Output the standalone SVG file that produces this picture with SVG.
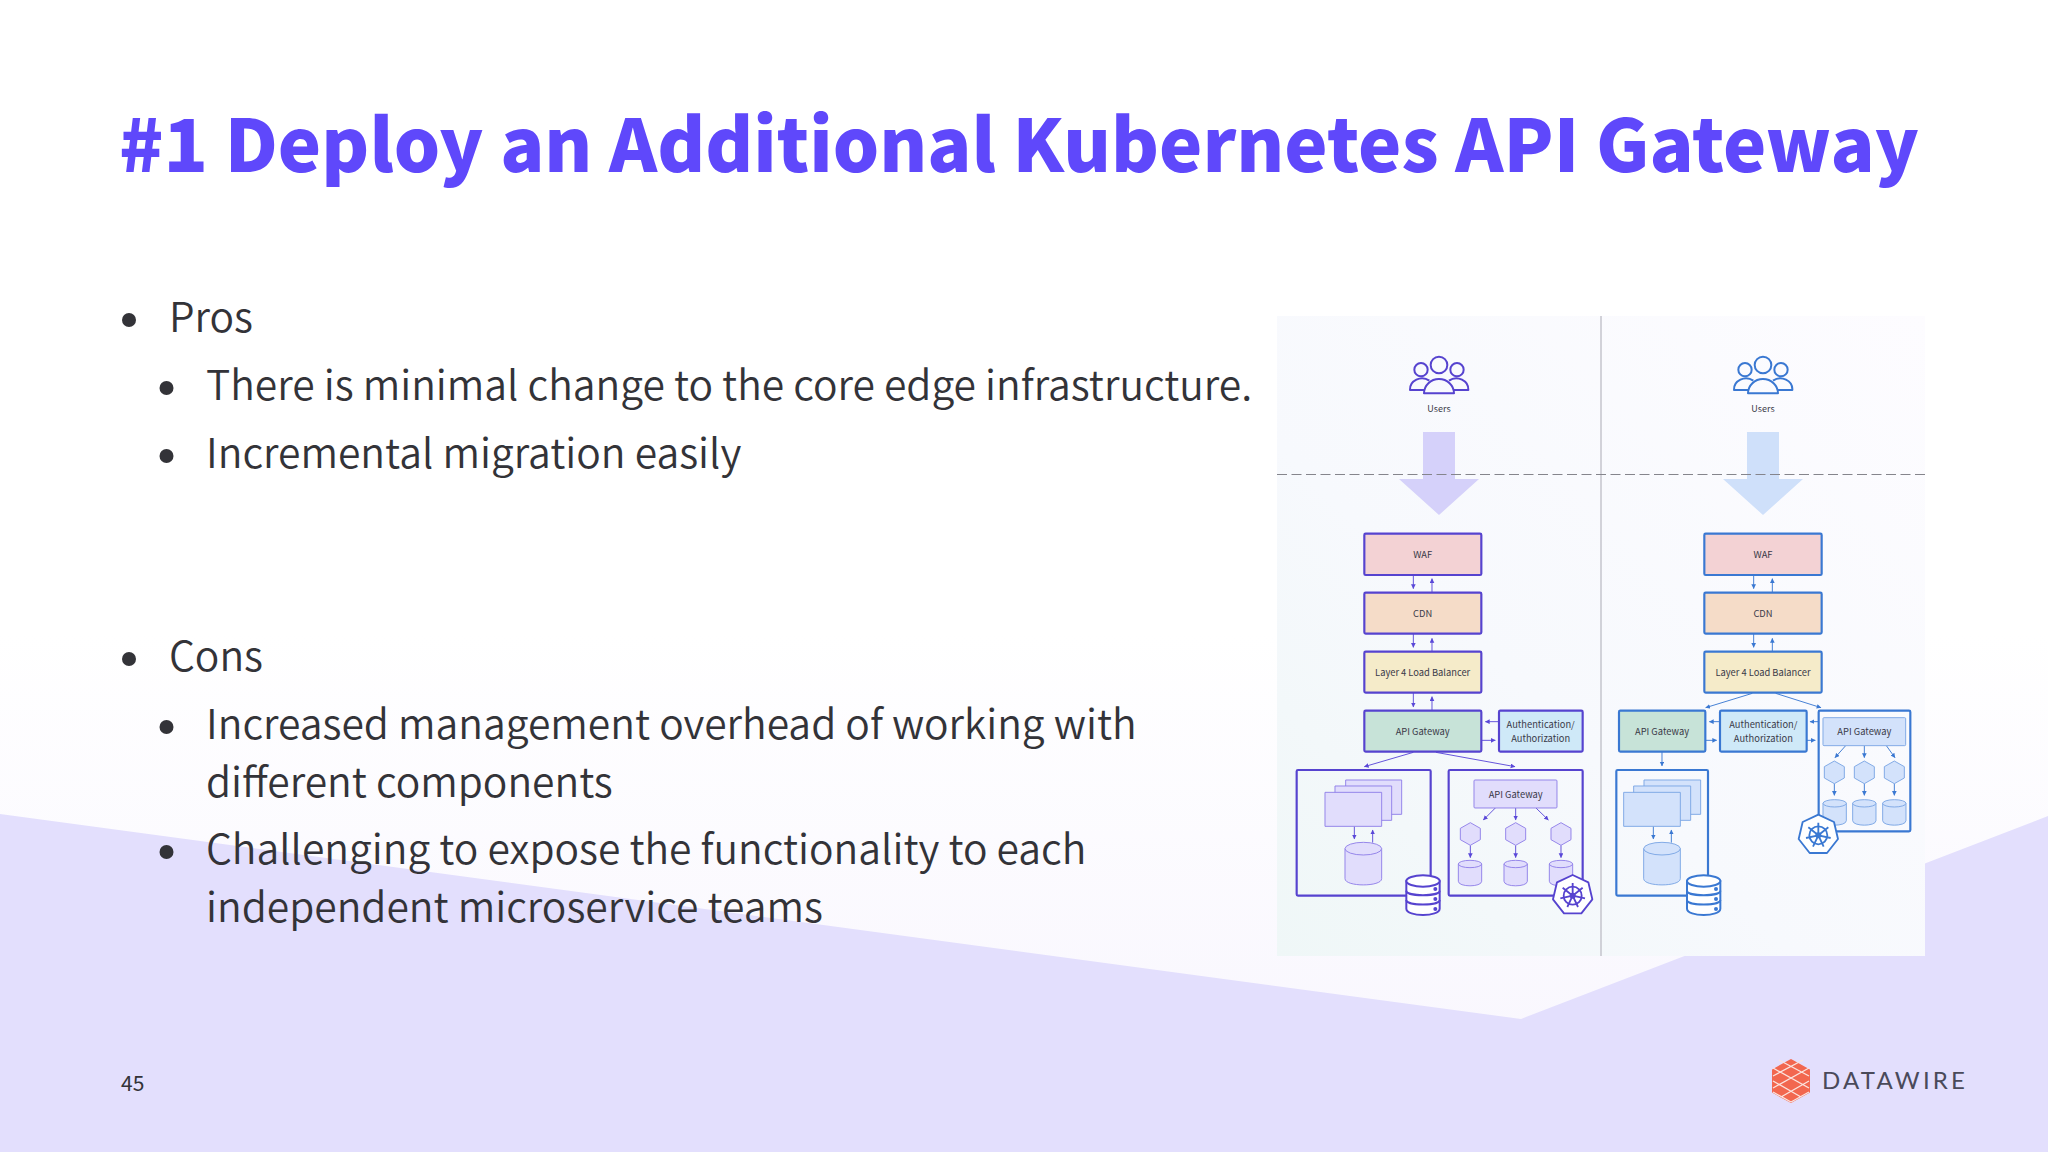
<svg xmlns="http://www.w3.org/2000/svg" xmlns:xlink="http://www.w3.org/1999/xlink" width="2048" height="1152" viewBox="0 0 2048 1152">
<style>
text{font-family:"Noto Sans CJK SC","Noto Sans",sans-serif}
.title{font-size:73px;font-weight:900;fill:#5f48fb}
.body{font-size:40.800px;font-weight:350;fill:#333338}
.bul{fill:#333338}
.t{font-size:28px;fill:#3a3a48;text-anchor:middle;font-weight:400}
.u{font-size:27px;fill:#3a3a48;text-anchor:middle}
.pu{color:#5643cf;--f:#e1ddfc;--s:#8f7fe8}
.bl{color:#3a78d2;--f:#d3e2fb;--s:#7ba6e4}
.n{stroke:currentColor;stroke-width:6.5;stroke-linejoin:round}
.in{stroke-width:2.8;stroke-linejoin:round;fill:var(--f);stroke:var(--s)}
.c{fill:none;stroke-width:2.8}
.c.pl{stroke:#5a48d8}
.c.bb{stroke:#3a78d2}
.waf{fill:#f3d2d4}.cdn{fill:#f5dcc8}.l4{fill:#f5ebc9}.gw{fill:#c7e3d8}.au{fill:#cfe9f8}
.box{fill:none}
</style>
<defs>
<linearGradient id="pg" x1="1" y1="0" x2="0" y2="1"><stop offset="0" stop-color="#fdfcff"/><stop offset="0.6" stop-color="#f7f9fd"/><stop offset="1" stop-color="#eff7f7"/></linearGradient>
<linearGradient id="wg" x1="0" y1="0" x2="0" y2="1"><stop offset="0.55" stop-color="#ffffff"/><stop offset="0.9" stop-color="#f9f7fe"/></linearGradient>
<marker id="ap" markerUnits="userSpaceOnUse" markerWidth="16" markerHeight="16" refX="13" refY="7" orient="auto"><path d="M0 0L14 7L0 14Z" fill="#5a48d8"/></marker>
<marker id="ab" markerUnits="userSpaceOnUse" markerWidth="16" markerHeight="16" refX="13" refY="7" orient="auto"><path d="M0 0L14 7L0 14Z" fill="#3a78d2"/></marker>
<symbol id="users" overflow="visible"><g fill="none" stroke="currentColor" stroke-width="6" stroke-linejoin="round">
<circle cx="0" cy="0" r="25"/><circle cx="-54" cy="14" r="20"/><circle cx="54" cy="14" r="20"/>
<path d="M-44 75H-87A36 33 0 0 1 -29 47"/><path d="M44 75H88A36 33 0 0 0 30 47"/><path d="M-45 85A45 43 0 0 1 45 85Z"/></g></symbol>
<symbol id="db" overflow="visible"><g fill="#fff" stroke="currentColor" stroke-width="6">
<path d="M-50 -41V41C-50 66 50 66 50 41V-41Z"/><ellipse cx="0" cy="-42" rx="50" ry="17"/>
<path d="M-50 -13C-50 5 50 5 50 -13M-50 15C-50 33 50 33 50 15" fill="none"/></g>
<g fill="currentColor"><circle cx="37" cy="-18" r="6"/><circle cx="37" cy="12" r="6"/><circle cx="37" cy="42" r="6"/></g></symbol>
<symbol id="k8s" overflow="visible"><path d="M0 -60L47 -38L59 13L26 55H-26L-59 13L-47 -38Z" fill="#fff" stroke="currentColor" stroke-width="5.5" stroke-linejoin="round"/>
<g fill="none" stroke="currentColor" stroke-width="5.5"><circle cx="0" cy="2" r="27"/><path d="M0 2V-36M0 2L30 -22M0 2L37 10M0 2L16 36M0 2L-16 36M0 2L-37 10M0 2L-30 -22"/></g><circle cx="0" cy="2" r="9" fill="currentColor"/></symbol>
<symbol id="cylL" overflow="visible"><path class="in" d="M-55 0V90C-55 115 55 115 55 90V0Z"/><ellipse class="in" cx="0" cy="0" rx="55" ry="19"/></symbol>
<symbol id="cylS" overflow="visible"><path class="in" d="M-35 0V52C-35 70 35 70 35 52V0Z"/><ellipse class="in" cx="0" cy="0" rx="35" ry="11"/></symbol>
<symbol id="hex" overflow="visible"><path class="in" d="M0 -34L30 -17V17L0 34L-30 17V-17Z"/></symbol>
</defs>

<rect width="2048" height="1152" fill="url(#wg)"/>
<path id="bg-shape" d="M0 814L1521 1019L2048 816V1152H0Z" fill="#e3dffd"/>

<text class="title" x="119" y="172">#1 Deploy an Additional Kubernetes API Gateway</text>
<g id="bullets">
<circle class="bul" cx="129" cy="320" r="7"/><text class="body" x="169" y="332">Pros</text>
<circle class="bul" cx="166.500" cy="388" r="7"/><text class="body" x="206" y="400">There is minimal change to the core edge infrastructure.</text>
<circle class="bul" cx="166.500" cy="456" r="7"/><text class="body" x="206" y="467.500">Incremental migration easily</text>
<circle class="bul" cx="129" cy="659" r="7"/><text class="body" x="169" y="671">Cons</text>
<circle class="bul" cx="166.500" cy="727" r="7"/><text class="body" x="206" y="739">Increased management overhead of working with</text><text class="body" x="206" y="796.500">different components</text>
<circle class="bul" cx="166.500" cy="852" r="7"/><text class="body" x="206" y="864">Challenging to expose the functionality to each</text><text class="body" x="206" y="921.500">independent microservice teams</text>
</g>
<text id="page" x="121" y="1091" font-size="21" fill="#333338" font-weight="400">45</text>

<g id="logo">
<path d="M1791 1060L1809 1070V1092L1791 1102L1773 1092V1070Z" fill="#f2674f" stroke="#f2674f" stroke-width="2" stroke-linejoin="round"/>
<path d="M1773 1076L1803 1060M1773 1088L1809 1068M1781 1097L1809 1081M1791 1102L1809 1092M1809 1076L1779 1060M1809 1088L1773 1068M1801 1097L1773 1081M1791 1102L1773 1092" stroke="#fbe3de" stroke-width="1.300" fill="none"/>
<text x="1822" y="1089" font-size="24" letter-spacing="3.200" fill="#4a4a5a" style="font-family:Lato,sans-serif">DATAWIRE</text>
</g>

<g id="panel">
<rect x="1277" y="316" width="648" height="640" fill="url(#pg)"/>
<line x1="1601" y1="316" x2="1601" y2="956" stroke="#c4c4cc" stroke-width="1.500"/>
<path id="bigarrow-left" d="M1423 432H1455V479H1479L1439 515L1399 479H1423Z" fill="#d5d1fa"/>
<path id="bigarrow-right" d="M1747 432H1779V479H1803L1763 515L1723 479H1747Z" fill="#cfe0fa"/>
<line id="edge-line" x1="1277" y1="474.500" x2="1925" y2="474.500" stroke="#85858c" stroke-width="1" stroke-dasharray="10 4.500"/>
</g>

<g id="connectors">
<g transform="translate(1270 310) scale(.33333)" class="pu">
<g class="c pl" marker-end="url(#ap)">
<path d="M430 795V836"/><path d="M486 846V806"/><path d="M430 971V1012"/><path d="M486 1025V985"/>
<path d="M430 1148V1191"/><path d="M486 1200V1160"/>
<path d="M687 1235H646"/><path d="M634 1291H676"/>
<path d="M430 1327L283 1370"/><path d="M498 1327L735 1370"/>
<path d="M253 1549V1587"/><path d="M308 1598V1560"/>
<path d="M676 1494L640 1530"/><path d="M737 1494V1530"/><path d="M798 1494L835 1530"/>
<path d="M601 1606V1643"/><path d="M737 1606V1643"/><path d="M873 1606V1643"/>
</g></g>
<g transform="translate(1600 310) scale(.33333)" class="bl">
<g class="c bb" marker-end="url(#ab)">
<path d="M461 795V836"/><path d="M517 846V806"/><path d="M461 971V1012"/><path d="M517 1025V985"/>
<path d="M457 1150L317 1193"/><path d="M527 1150L663 1193"/>
<path d="M360 1235H328"/><path d="M316 1291H350"/><path d="M656 1235H630"/><path d="M620 1291H646"/>
<path d="M186 1325V1368"/>
<path d="M160 1549V1587"/><path d="M214 1598V1560"/>
<path d="M737 1307L705 1343"/><path d="M793 1307V1343"/><path d="M859 1307L885 1343"/>
<path d="M703 1420V1456"/><path d="M793 1420V1456"/><path d="M883 1420V1456"/>
</g></g>
</g>

<g id="left-diagram" transform="translate(1270 310) scale(.33333)" class="pu">
<g id="l-users"><use xlink:href="#users" x="507" y="165"/><text class="u" x="507" y="307">Users</text></g>
<g id="l-waf"><rect class="n waf" x="283" y="671" width="351" height="124" rx="4"/><text class="t" x="458" y="743">WAF</text></g>
<g id="l-cdn"><rect class="n cdn" x="283" y="848" width="351" height="123" rx="4"/><text class="t" x="458" y="920">CDN</text></g>
<g id="l-lb"><rect class="n l4" x="283" y="1025" width="351" height="123" rx="4"/><text class="t" x="458" y="1097">Layer 4 Load Balancer</text></g>
<g id="l-gw"><rect class="n gw" x="283" y="1202" width="351" height="123" rx="4"/><text class="t" x="458" y="1274">API Gateway</text></g>
<g id="l-auth"><rect class="n au" x="687" y="1202" width="251" height="123" rx="4"/><text class="t" x="812" y="1255">Authentication/</text><text class="t" x="812" y="1295">Authorization</text></g>
<g id="l-mono"><rect class="n box" x="80" y="1380" width="402" height="377" rx="4"/>
<rect class="in" x="227" y="1410" width="168" height="103"/><rect class="in" x="195" y="1428" width="170" height="103"/><rect class="in" x="165" y="1447" width="170" height="102"/>
<use xlink:href="#cylL" x="280" y="1616"/></g>
<g id="l-ms"><rect class="n box" x="536" y="1380" width="402" height="377" rx="4"/>
<rect class="in" x="612" y="1410" width="249" height="84" rx="3"/><text class="t" x="737" y="1463">API Gateway</text>
<use xlink:href="#hex" x="601" y="1572"/><use xlink:href="#hex" x="737" y="1572"/><use xlink:href="#hex" x="873" y="1572"/>
<use xlink:href="#cylS" x="600" y="1662"/><use xlink:href="#cylS" x="737" y="1662"/><use xlink:href="#cylS" x="873" y="1662"/></g>
<g id="l-db"><use xlink:href="#db" x="459" y="1755"/></g>
<g id="l-k8s"><use xlink:href="#k8s" x="908" y="1755"/></g>
</g>

<g id="right-diagram" transform="translate(1600 310) scale(.33333)" class="bl">
<g id="r-users"><use xlink:href="#users" x="489" y="165"/><text class="u" x="489" y="307">Users</text></g>
<g id="r-waf"><rect class="n waf" x="313" y="671" width="352" height="124" rx="4"/><text class="t" x="489" y="743">WAF</text></g>
<g id="r-cdn"><rect class="n cdn" x="313" y="848" width="352" height="123" rx="4"/><text class="t" x="489" y="920">CDN</text></g>
<g id="r-lb"><rect class="n l4" x="313" y="1025" width="352" height="123" rx="4"/><text class="t" x="489" y="1097">Layer 4 Load Balancer</text></g>
<g id="r-gw"><rect class="n gw" x="57" y="1202" width="259" height="123" rx="4"/><text class="t" x="186" y="1274">API Gateway</text></g>
<g id="r-auth"><rect class="n au" x="360" y="1202" width="260" height="123" rx="4"/><text class="t" x="490" y="1255">Authentication/</text><text class="t" x="490" y="1295">Authorization</text></g>
<g id="r-mono"><rect class="n box" x="49" y="1380" width="275" height="377" rx="4"/>
<rect class="in" x="132" y="1410" width="170" height="103"/><rect class="in" x="101" y="1428" width="171" height="103"/><rect class="in" x="71" y="1447" width="170" height="102"/>
<use xlink:href="#cylL" x="186" y="1616"/></g>
<g id="r-ms"><rect class="n box" x="656" y="1202" width="275" height="362" rx="4"/>
<rect class="in" x="669" y="1223" width="248" height="84" rx="3"/><text class="t" x="793" y="1275">API Gateway</text>
<use xlink:href="#hex" x="703" y="1387"/><use xlink:href="#hex" x="793" y="1387"/><use xlink:href="#hex" x="883" y="1387"/>
<use xlink:href="#cylS" x="704" y="1480"/><use xlink:href="#cylS" x="793" y="1480"/><use xlink:href="#cylS" x="883" y="1480"/></g>
<g id="r-db"><use xlink:href="#db" x="311" y="1755"/></g>
<g id="r-k8s"><use xlink:href="#k8s" x="655" y="1574"/></g>
</g>
</svg>
